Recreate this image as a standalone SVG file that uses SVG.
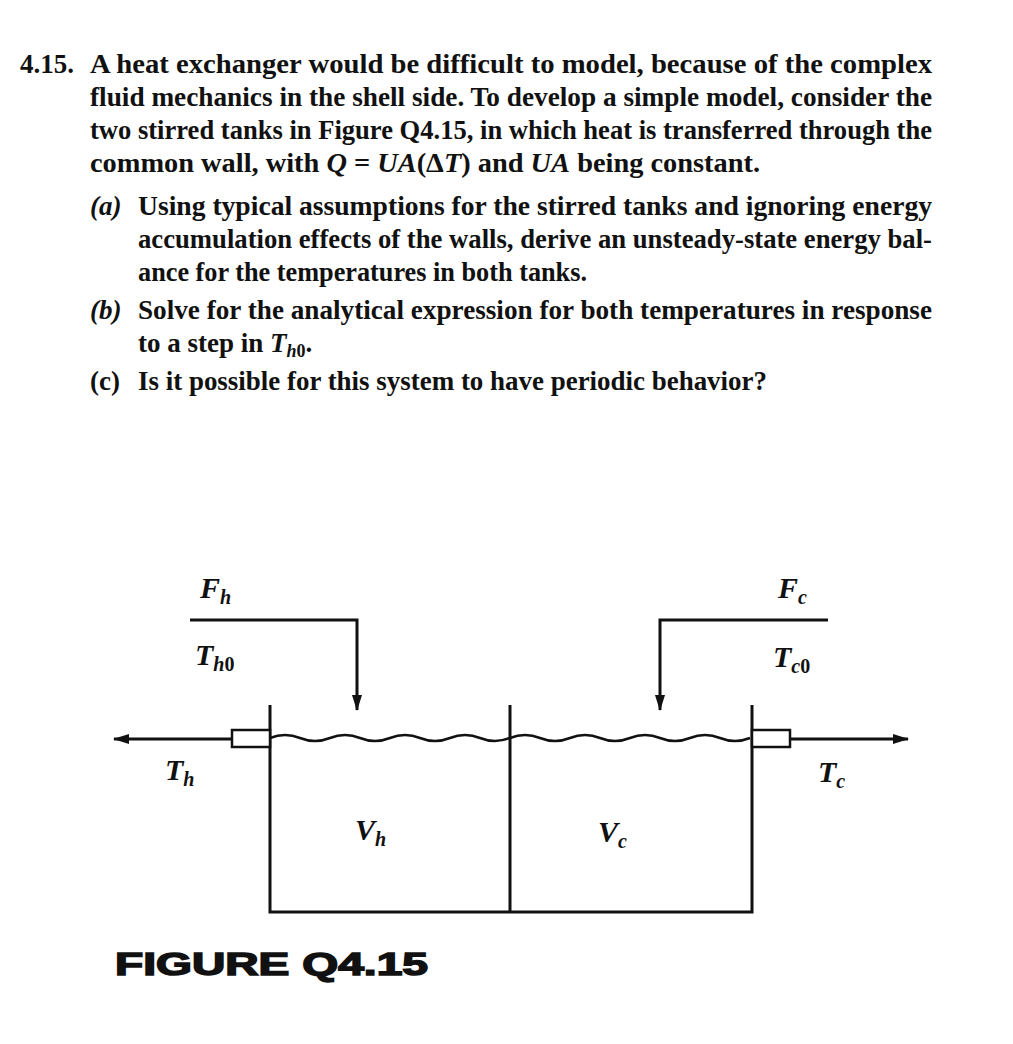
<svg xmlns="http://www.w3.org/2000/svg" width="1013" height="1044" viewBox="0 0 1013 1044">
<style>
.t{font-family:"Liberation Serif",serif;font-weight:bold;font-size:27px;fill:#111}
.i{font-style:italic}
.l{font-family:"Liberation Serif",serif;font-weight:bold;font-style:italic;font-size:30px;fill:#111}
.s{font-size:20px}
.ln{stroke:#111;stroke-width:3;fill:none}
</style>
<defs><marker id="a" markerWidth="16" markerHeight="10" refX="15" refY="5" orient="auto" markerUnits="userSpaceOnUse"><path d="M0,0 L16,5 L0,10 z" fill="#111"/></marker></defs>
<rect width="1013" height="1044" fill="#fff"/>
<g id="text">
<text class="t" x="20" y="73">4.15.</text>
<text class="t" x="90" y="73" textLength="842" lengthAdjust="spacingAndGlyphs">A heat exchanger would be difficult to model, because of the complex</text>
<text class="t" x="90" y="106" textLength="842" lengthAdjust="spacingAndGlyphs">fluid mechanics in the shell side. To develop a simple model, consider the</text>
<text class="t" x="90" y="139" textLength="842" lengthAdjust="spacingAndGlyphs">two stirred tanks in Figure Q4.15, in which heat is transferred through the</text>
<text class="t" x="90" y="172" textLength="670" lengthAdjust="spacingAndGlyphs">common wall, with <tspan class="i">Q</tspan> = <tspan class="i">UA</tspan>(Δ<tspan class="i">T</tspan>) and <tspan class="i">UA</tspan> being constant.</text>
<text class="t" x="90" y="215"><tspan class="i">(a)</tspan></text>
<text class="t" x="138" y="215" textLength="794" lengthAdjust="spacingAndGlyphs">Using typical assumptions for the stirred tanks and ignoring energy</text>
<text class="t" x="138" y="248" textLength="794" lengthAdjust="spacingAndGlyphs">accumulation effects of the walls, derive an unsteady-state energy bal-</text>
<text class="t" x="138" y="281" textLength="449" lengthAdjust="spacingAndGlyphs">ance for the temperatures in both tanks.</text>
<text class="t" x="90" y="319"><tspan class="i">(b)</tspan></text>
<text class="t" x="138" y="319" textLength="794" lengthAdjust="spacingAndGlyphs">Solve for the analytical expression for both temperatures in response</text>
<text class="t" x="138" y="352">to a step in <tspan class="i">T</tspan><tspan class="i" font-size="18" dy="5">h</tspan><tspan font-size="18">0</tspan><tspan dy="-5">.</tspan></text>
<text class="t" x="90" y="390">(c)</text>
<text class="t" x="138" y="390" textLength="629" lengthAdjust="spacingAndGlyphs">Is it possible for this system to have periodic behavior?</text>
</g>
<g id="tank">
<path class="ln" d="M270,705 V912 H752 V705"/>
<line class="ln" x1="510" y1="705" x2="510" y2="912"/>
<path d="M270,738 q15,-6 30,0 t30,0 t30,0 t30,0 t30,0 t30,0 t30,0 t30,0 t30,0 t30,0 t30,0 t30,0 t30,0 t30,0 t30,0 t30,0" stroke="#111" stroke-width="2.5" fill="none"/>
<rect x="232" y="730" width="38" height="17" fill="#fff" stroke="#111" stroke-width="2.5"/>
<rect x="752" y="730" width="38" height="17" fill="#fff" stroke="#111" stroke-width="2.5"/>
</g>
<g id="connectors">
<path class="ln" d="M190,620 H357 V710" marker-end="url(#a)"/>
<path class="ln" d="M828,620 H660 V710" marker-end="url(#a)"/>
<line class="ln" x1="232" y1="739" x2="114" y2="739" marker-end="url(#a)"/>
<line class="ln" x1="790" y1="739" x2="908" y2="739" marker-end="url(#a)"/>
</g>
<g id="labels">
<text class="l" x="200" y="598">F<tspan class="s" dy="6">h</tspan></text>
<text class="l" x="195" y="665">T<tspan class="s" dy="6">h</tspan><tspan class="s" font-style="normal">0</tspan></text>
<text class="l" x="778" y="598">F<tspan class="s" dy="6">c</tspan></text>
<text class="l" x="773" y="667">T<tspan class="s" dy="6">c</tspan><tspan class="s" font-style="normal">0</tspan></text>
<text class="l" x="165" y="780">T<tspan class="s" dy="6">h</tspan></text>
<text class="l" x="818" y="782">T<tspan class="s" dy="6">c</tspan></text>
<text class="l" x="355" y="840">V<tspan class="s" dy="6">h</tspan></text>
<text class="l" x="598" y="842">V<tspan class="s" dy="6">c</tspan></text>
</g>
<text x="115" y="975" font-family="'Liberation Sans',sans-serif" font-weight="bold" font-size="31" fill="#111" stroke="#111" stroke-width="1.5" textLength="313" lengthAdjust="spacingAndGlyphs">FIGURE Q4.15</text>
</svg>
